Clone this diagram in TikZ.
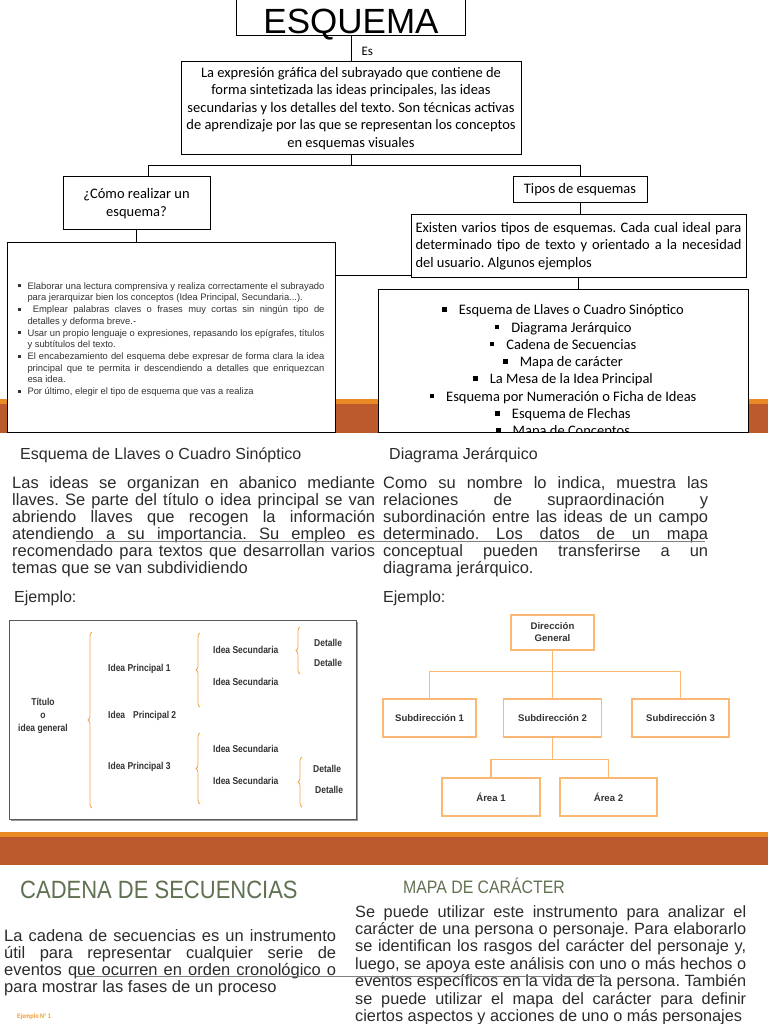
\documentclass[tikz,border=0pt]{standalone}
\usepackage{fontspec}
\setmainfont{Liberation Sans}
\newfontfamily\calfont{Carlito}
\newfontfamily\condfont[FakeStretch=0.85]{Liberation Sans}
\newfontfamily\narrowfont[FakeStretch=0.88]{Liberation Sans}
\usetikzlibrary{positioning,calc,shadows,decorations.pathreplacing}

\definecolor{bandred}{HTML}{BD5A2D}
\definecolor{bandlight}{HTML}{E98A25}
\definecolor{bracecol}{HTML}{F6A44C}
\definecolor{orgcol}{HTML}{FBB874}
\definecolor{headgreen}{HTML}{607152}
\definecolor{ink}{HTML}{2B2B2B}
\definecolor{exorange}{HTML}{F29A30}

\newcommand{\sq}{\raisebox{0.2em}{\rule{0.32em}{0.32em}}}
\newcommand{\lb}{\sq\hspace{12pt}}
\newcommand{\bitem}[1]{\par\hangindent=10pt\hangafter=1\noindent\hbox to 10pt{\sq\hfil}#1}
\tolerance=10000 \pretolerance=10000 \hyphenpenalty=10000
\frenchspacing

\begin{document}
\begin{tikzpicture}[x=1pt, y=-1pt,
    box/.style={rectangle, draw, line width=1pt, fill=white, inner sep=0pt, align=center,
        font=\calfont\fontsize{14.5}{17.6}\selectfont},
    conn/.style={line width=1pt},
    para/.style={anchor=north west, inner sep=0pt, align=justify, text=ink,
        font=\fontsize{16.5}{17}\selectfont},
    subhead/.style={anchor=west, inner sep=0pt, text=ink, font=\fontsize{16}{19}\selectfont},
    bighead/.style={anchor=west, inner sep=0pt, text=headgreen},
    llave/.style={draw=bracecol, line width=0.8pt, decorate, decoration={brace, amplitude=4pt}},
    llavetxt/.style={anchor=west, inner sep=0pt, text=black!80,
        font=\condfont\bfseries\fontsize{10}{13}\selectfont},
    orgbox/.style={rectangle, draw=orgcol, line width=1.2pt, fill=white, inner sep=0pt, align=center,
        text=black!80, minimum height=38pt, font=\bfseries\fontsize{9.6}{12}\selectfont},
    orgconn/.style={draw=orgcol, line width=1.2pt}
]
\useasboundingbox (0,0) rectangle (768,1024);
\clip (0,0) rectangle (768,1024);

% bands
\fill[bandlight] (0,399) rectangle (768,404);
\fill[bandred] (0,404) rectangle (768,433);
\fill[bandlight] (0,832) rectangle (768,837);
\fill[bandred] (0,837) rectangle (768,865);

% top map
\node[box, minimum width=229pt, minimum height=40pt, text height=35pt, text depth=0pt,
    font=\fontsize{35}{40}\selectfont] (esquema) at (351,16) {ESQUEMA};
\node[box, minimum width=340pt, minimum height=93pt] (expresion) at (351,108.5)
    {La expresión gráfica del subrayado que contiene de\\forma sintetizada las ideas principales, las ideas\\secundarias y los detalles del texto. Son técnicas activas\\de aprendizaje por las que se representan los conceptos\\en esquemas visuales};
\node[box, minimum width=147pt, minimum height=53pt] (como) at (136.5,203.5) {¿Cómo realizar un\\esquema?};
\node[box, minimum width=134pt, minimum height=26pt] (tipos) at (580,190) {Tipos de esquemas};
\node[box, minimum width=335pt, minimum height=62pt, text width=326pt, align=justify] (existen) at (578.5,246)
    {Existen varios tipos de esquemas. Cada cual ideal para\linebreak determinado tipo de texto y orientado a la necesidad\linebreak del usuario. Algunos ejemplos};
\node[box, minimum width=328pt, minimum height=190pt, text width=307pt, align=justify, text=black!80,
    font=\fontsize{9.4}{11.7}\selectfont] (pasos) at (171,337) {%
    \bitem{Elaborar una lectura comprensiva y realiza correctamente el subrayado\linebreak para jerarquizar bien los conceptos (Idea Principal, Secundaria...).}
    \bitem{\ Emplear palabras claves o frases muy cortas sin ningún tipo de\linebreak detalles y deforma breve.-}
    \bitem{Usar un propio lenguaje o expresiones, repasando los epígrafes, títulos\linebreak y subtítulos del texto.}
    \bitem{El encabezamiento del esquema debe expresar de forma clara la idea\linebreak principal que te permita ir descendiendo a detalles que enriquezcan\linebreak esa idea.}
    \bitem{Por último, elegir el tipo de esquema que vas a realiza}};
\node[box, minimum width=370pt, minimum height=143pt] (listbox) at (563,360.5) {};
\begin{scope}
    \clip (listbox.north west) rectangle ([yshift=0.5pt]listbox.south east);
    \node[anchor=north, inner sep=0pt, align=center, yshift=-16pt,
        font=\calfont\fontsize{14.5}{17.3}\selectfont] (tiposlista) at (listbox.north)
        {\lb Esquema de Llaves o Cuadro Sinóptico\\ \lb Diagrama Jerárquico\\ \lb Cadena de Secuencias\\
         \lb Mapa de carácter\\ \lb La Mesa de la Idea Principal\\ \lb Esquema por Numeración o Ficha de Ideas\\
         \lb Esquema de Flechas\\ \lb Mapa de Conceptos};
\end{scope}

\draw[conn] (esquema) -- node[right=10pt, pos=0.6, inner sep=0pt, font=\calfont\fontsize{13}{15}\selectfont] {Es} (expresion);
\draw[conn] (expresion.south) -- ++(0,10) -| ([xshift=11.5pt]como.north);
\draw[conn] (expresion.south) -- ++(0,10) -| (tipos.north);
\draw[conn] (como.south) -- (como.south |- pasos.north);
\draw[conn] (tipos.south) -- (tipos.south |- existen.north);
\draw[conn] (existen.south) -- (existen.south |- listbox.north);
\coordinate (enlace) at (0,275);
\draw[conn] (pasos.east |- enlace) -- (existen.west |- enlace);

% second slide
\node[subhead] (llavestit) at (20,455) {Esquema de Llaves o Cuadro Sinóptico};
\node[subhead] (jerartit) at (389,455) {Diagrama Jerárquico};
\node[para, text width=363pt] (llavespar) at (12,476)
    {Las ideas se organizan en abanico mediante\linebreak llaves. Se parte del título o idea principal se van\linebreak abriendo llaves que recogen la información\linebreak atendiendo a su importancia. Su empleo es\linebreak recomendado para textos que desarrollan varios\linebreak temas que se van subdividiendo};
\node[para, text width=325pt] (jerarpar) at (383,476)
    {Como su nombre lo indica, muestra las\linebreak relaciones de supraordinación y\linebreak subordinación entre las ideas de un campo\linebreak determinado. Los datos de un mapa\linebreak conceptual pueden transferirse a un\linebreak diagrama jerárquico.};
\draw[gray, line width=0.8pt] (76,541) -- (705,541);
\node[subhead] (ej1) at (14,598) {Ejemplo:};
\node[subhead] (ej2) at (383,598) {Ejemplo:};

\node[draw=black!65, line width=0.8pt, fill=white, minimum width=347pt, minimum height=199pt,
    drop shadow={shadow xshift=1.5pt, shadow yshift=-1.5pt, fill=black!40, opacity=1}] (llavesbox) at (182.5,719.5) {};
\node[llavetxt, anchor=center, align=center] (titulo) at (43,716) {Título\\o\\idea general};
\node[llavetxt] (ip1) at (108,669) {Idea Principal 1};
\node[llavetxt] (ip2) at (108,716) {Idea\hspace{8pt}Principal 2};
\node[llavetxt] (ip3) at (108,767) {Idea Principal 3};
\node[llavetxt] (is1) at (213,650) {Idea Secundaria};
\node[llavetxt] (is2) at (213,682) {Idea Secundaria};
\node[llavetxt] (is3) at (213,749) {Idea Secundaria};
\node[llavetxt] (is4) at (213,781) {Idea Secundaria};
\node[llavetxt] (det1) at (314,643) {Detalle};
\node[llavetxt] (det2) at (314,663) {Detalle};
\node[llavetxt] (det3) at (313,769) {Detalle};
\node[llavetxt] (det4) at (315,790) {Detalle};
\draw[llave] (92,808) -- (92,632);
\draw[llave] (200,707) -- (200,633);
\draw[llave] (200,804) -- (200,733);
\draw[llave] (300,674) -- (300,627);
\draw[llave] (302,807) -- (302,757);

\node[orgbox, minimum width=83pt, minimum height=35pt] (dirgen) at (552.5,632.5) {Dirección\\General};
\node[orgbox, minimum width=93pt] (sub1) at (429.5,718) {Subdirección 1};
\node[orgbox, minimum width=98pt] (sub2) at (552.5,718) {Subdirección 2};
\node[orgbox, minimum width=97pt] (sub3) at (680.5,718) {Subdirección 3};
\node[orgbox, minimum width=98pt] (area1) at (491,797) {Área 1};
\node[orgbox, minimum width=97pt] (area2) at (608.5,797) {Área 2};
\draw[orgconn] (dirgen.south) -- ++(0,21) -| (sub1.north);
\draw[orgconn] (dirgen.south) -- ++(0,21) -| (sub3.north);
\draw[orgconn] (dirgen) -- (sub2);
\draw[orgconn] (sub2.south) -- ++(0,22) -| (area1.north);
\draw[orgconn] (sub2.south) -- ++(0,22) -| (area2.north);

% third slide
\node[bighead, font=\narrowfont\fontsize{25}{28}\selectfont] (cadenatit) at (20,890) {CADENA DE SECUENCIAS};
\node[bighead, font=\narrowfont\fontsize{18}{21}\selectfont] (mapatit) at (403,886) {MAPA DE CARÁCTER};
\node[para, text width=332pt] (cadenapar) at (4,929)
    {La cadena de secuencias es un instrumento\linebreak útil para representar cualquier serie de\linebreak eventos que ocurren en orden cronológico o\linebreak para mostrar las fases de un proceso};
\node[para, text width=391pt, font=\fontsize{16.3}{17.4}\selectfont] (mapapar) at (355,905)
    {\parfillskip=0pt Se puede utilizar este instrumento para analizar el\linebreak carácter de una persona o personaje. Para elaborarlo\linebreak se identifican los rasgos del carácter del personaje y,\linebreak luego, se apoya este análisis con uno o más hechos o\linebreak eventos específicos en la vida de la persona. También\linebreak se puede utilizar el mapa del carácter para definir\linebreak ciertos aspectos y acciones de uno o más personajes};
\draw[gray, line width=0.8pt] (76,976) -- (607,976);
\node[anchor=west, inner sep=0pt, text=exorange, font=\condfont\bfseries\fontsize{6.5}{8}\selectfont] (ejemplo1) at (17,1017) {Ejemplo N° 1};
\end{tikzpicture}
\end{document}
